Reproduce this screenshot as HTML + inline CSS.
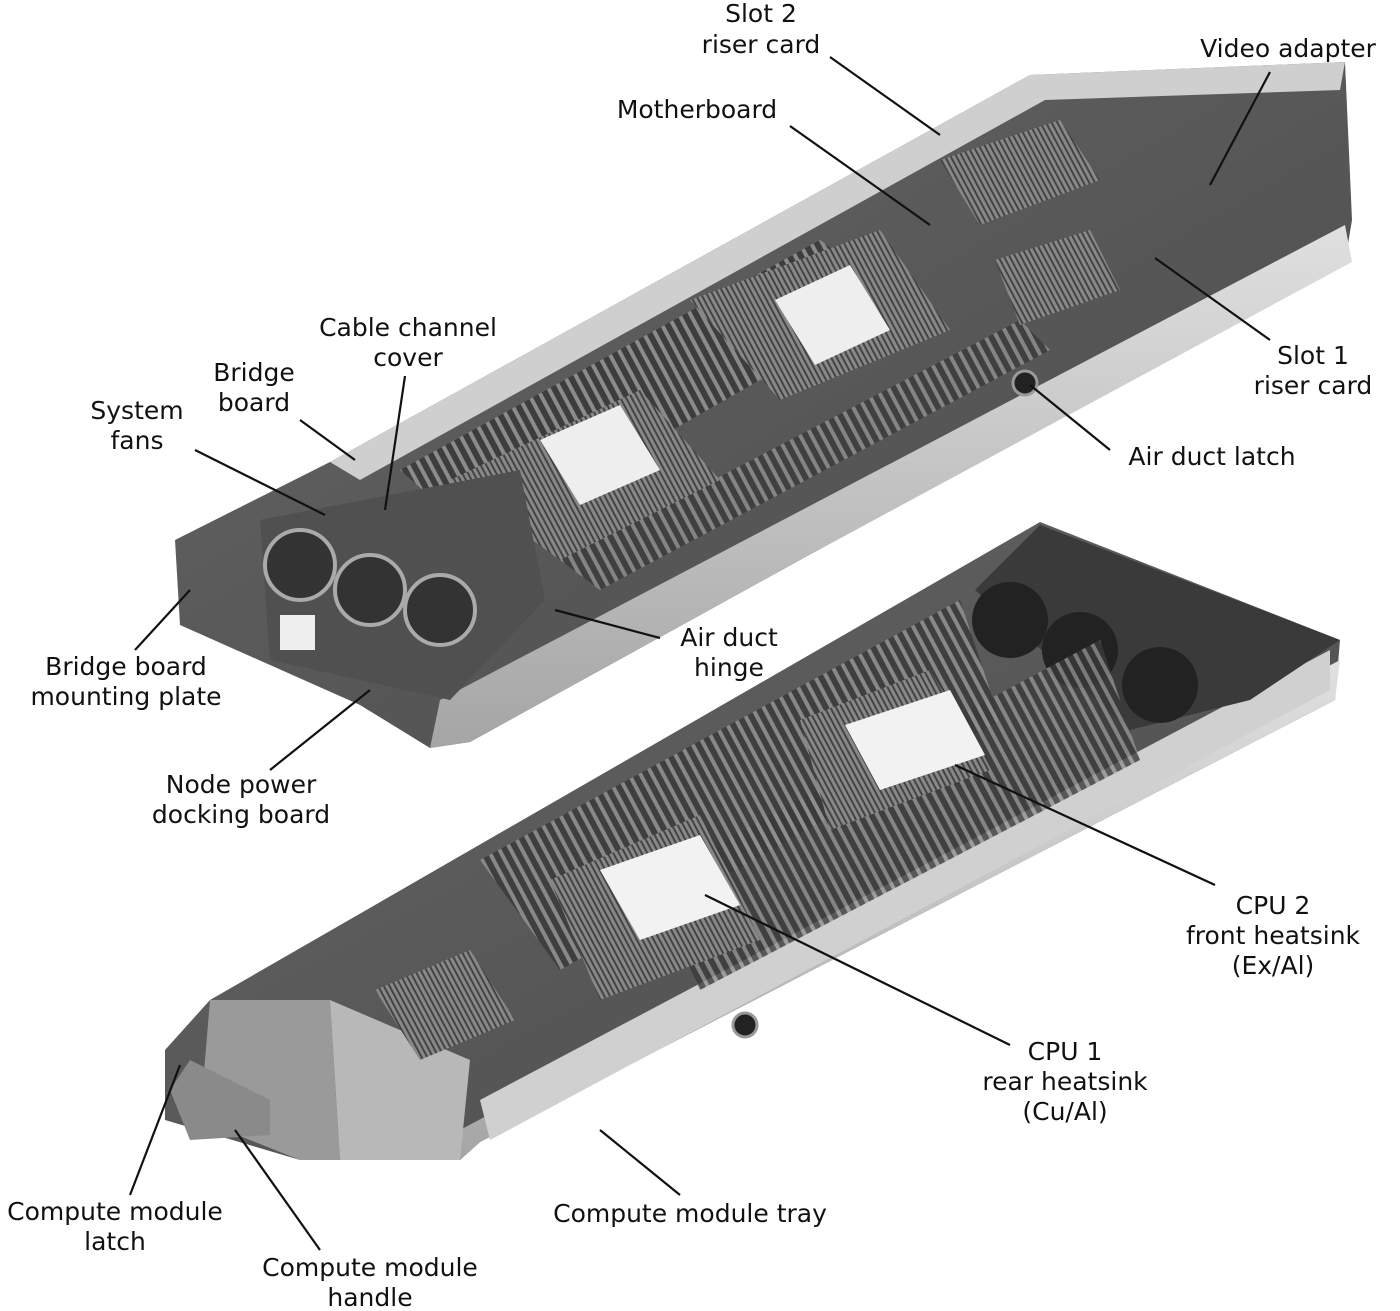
<!DOCTYPE html>
<html><head><meta charset="utf-8"><style>
html,body{margin:0;padding:0;background:#fff;}
svg{display:block}
text{font-family:"DejaVu Sans","Liberation Sans",sans-serif;font-size:25px;fill:#111;text-anchor:middle;dominant-baseline:middle}
</style></head><body>
<svg width="1400" height="1311" viewBox="0 0 1400 1311" xmlns="http://www.w3.org/2000/svg">
<defs>
<linearGradient id="g1" x1="0" y1="0" x2="1" y2="1">
<stop offset="0" stop-color="#666"/><stop offset="1" stop-color="#4a4a4a"/></linearGradient>
<linearGradient id="rail" x1="0" y1="0" x2="0" y2="1">
<stop offset="0" stop-color="#e0e0e0"/><stop offset="1" stop-color="#a5a5a5"/></linearGradient>
<pattern id="fins" width="5" height="5" patternUnits="userSpaceOnUse" patternTransform="rotate(-28)">
<rect width="5" height="5" fill="#888"/><rect width="2" height="5" fill="#444"/></pattern>
<pattern id="dimm" width="10" height="10" patternUnits="userSpaceOnUse" patternTransform="rotate(-28)">
<rect width="10" height="10" fill="#3a3a3a"/><rect width="4" height="10" fill="#909090"/></pattern>
</defs>

<!-- TOP MODULE -->
<polygon points="175,540 330,462 1030,75 1345,62 1352,220 1345,262 800,560 470,742 430,748 360,705 180,625" fill="url(#g1)"/>
<polygon points="330,462 1030,75 1345,62 1340,90 1045,100 360,480" fill="#cfcfcf"/>
<polygon points="440,700 1345,225 1352,262 800,560 470,742 430,748" fill="url(#rail)"/>
<polygon points="400,470 820,240 900,300 480,540" fill="url(#dimm)" opacity="0.9"/>
<polygon points="560,560 1020,320 1050,350 600,590" fill="url(#dimm)" opacity="0.8"/>
<polygon points="450,480 640,390 720,480 560,560" fill="url(#fins)"/>
<polygon points="690,300 880,230 950,330 780,400" fill="url(#fins)"/>
<polygon points="540,440 620,405 660,470 580,505" fill="#eee"/>
<polygon points="775,300 850,265 890,330 815,365" fill="#eee"/>
<polygon points="940,160 1060,120 1100,180 980,225" fill="url(#fins)"/>
<polygon points="995,260 1090,230 1120,290 1020,325" fill="url(#fins)"/>
<polygon points="260,520 520,470 545,600 450,700 270,660" fill="#505050"/>
<circle cx="300" cy="565" r="35" fill="#333" stroke="#aaa" stroke-width="4"/>
<circle cx="370" cy="590" r="35" fill="#333" stroke="#aaa" stroke-width="4"/>
<circle cx="440" cy="610" r="35" fill="#333" stroke="#aaa" stroke-width="4"/>
<rect x="280" y="615" width="35" height="35" fill="#eee"/>
<circle cx="1025" cy="383" r="12" fill="#222" stroke="#999" stroke-width="3"/>

<!-- BOTTOM MODULE -->
<polygon points="165,1050 210,1000 1040,522 1340,640 1335,700 480,1142 460,1160 300,1160 165,1120" fill="url(#g1)"/>
<polygon points="460,1130 1340,660 1335,700 480,1142 460,1160" fill="url(#rail)"/>
<polygon points="480,1100 1330,650 1330,690 490,1140" fill="#d0d0d0"/>
<polygon points="210,1000 330,1000 340,1160 300,1160 200,1120" fill="#9a9a9a"/>
<polygon points="330,1000 470,1060 460,1160 340,1160" fill="#b8b8b8"/>
<polygon points="975,590 1040,525 1340,640 1250,700 1130,730" fill="#3a3a3a"/>
<circle cx="1010" cy="620" r="38" fill="#222"/>
<circle cx="1080" cy="650" r="38" fill="#222"/>
<circle cx="1160" cy="685" r="38" fill="#222"/>
<polygon points="480,860 960,600 1000,720 560,970" fill="url(#dimm)" opacity="0.85"/>
<polygon points="650,880 1100,640 1140,760 700,990" fill="url(#dimm)" opacity="0.8"/>
<polygon points="800,720 930,670 990,770 830,830" fill="url(#fins)"/>
<polygon points="550,880 700,815 760,940 600,1000" fill="url(#fins)"/>
<polygon points="845,725 950,690 985,755 880,790" fill="#f2f2f2"/>
<polygon points="600,870 700,835 740,905 640,940" fill="#f2f2f2"/>
<polygon points="375,990 470,950 515,1020 420,1060" fill="url(#fins)"/>
<polygon points="170,1090 190,1060 270,1100 270,1135 190,1140" fill="#8a8a8a"/>
<circle cx="745" cy="1025" r="12" fill="#222" stroke="#999" stroke-width="3"/>

<!-- leader lines -->
<g stroke="#111" stroke-width="2.2" fill="none">
<line x1="830" y1="57" x2="940" y2="135"/>
<line x1="1270" y1="72" x2="1210" y2="185"/>
<line x1="790" y1="126" x2="930" y2="225"/>
<line x1="405" y1="376" x2="385" y2="510"/>
<line x1="300" y1="420" x2="355" y2="460"/>
<line x1="195" y1="450" x2="325" y2="515"/>
<line x1="1270" y1="340" x2="1155" y2="258"/>
<line x1="1110" y1="450" x2="1030" y2="385"/>
<line x1="660" y1="638" x2="555" y2="610"/>
<line x1="135" y1="650" x2="190" y2="590"/>
<line x1="270" y1="770" x2="370" y2="690"/>
<line x1="1215" y1="885" x2="955" y2="765"/>
<line x1="1010" y1="1045" x2="705" y2="895"/>
<line x1="130" y1="1195" x2="180" y2="1065"/>
<line x1="320" y1="1250" x2="235" y2="1130"/>
<line x1="680" y1="1195" x2="600" y2="1130"/>
</g>

<!-- labels -->
<text x="761" y="15">Slot 2</text><text x="761" y="46">riser card</text>
<text x="1288" y="50">Video adapter</text>
<text x="697" y="111">Motherboard</text>
<text x="408" y="329">Cable channel</text><text x="408" y="359">cover</text>
<text x="254" y="374">Bridge</text><text x="254" y="404">board</text>
<text x="137" y="412">System</text><text x="137" y="442">fans</text>
<text x="1313" y="357">Slot 1</text><text x="1313" y="387">riser card</text>
<text x="1212" y="458">Air duct latch</text>
<text x="729" y="639">Air duct</text><text x="729" y="669">hinge</text>
<text x="126" y="668">Bridge board</text><text x="126" y="698">mounting plate</text>
<text x="241" y="786">Node power</text><text x="241" y="816">docking board</text>
<text x="1273" y="907">CPU 2</text><text x="1273" y="937">front heatsink</text><text x="1273" y="967">(Ex/Al)</text>
<text x="1065" y="1053">CPU 1</text><text x="1065" y="1083">rear heatsink</text><text x="1065" y="1113">(Cu/Al)</text>
<text x="115" y="1213">Compute module</text><text x="115" y="1243">latch</text>
<text x="690" y="1215">Compute module tray</text>
<text x="370" y="1269">Compute module</text><text x="370" y="1299">handle</text>
</svg>
</body></html>
